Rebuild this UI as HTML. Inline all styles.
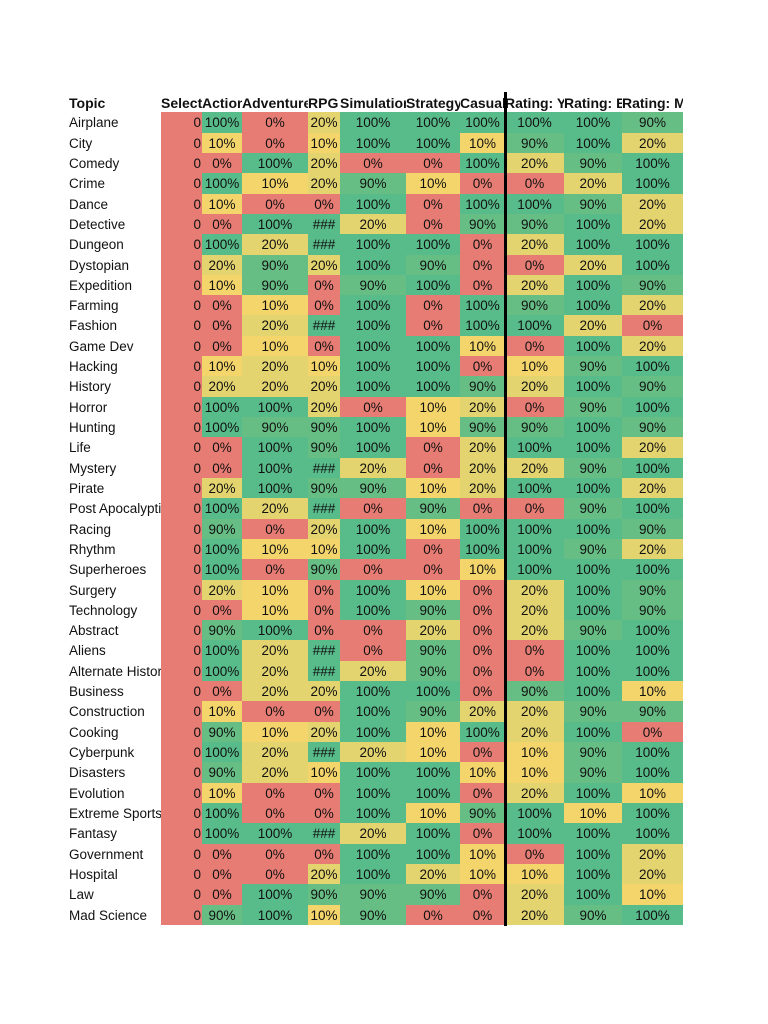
<!DOCTYPE html>
<html><head><meta charset="utf-8"><style>
body{margin:0;width:768px;height:1024px;background:#fff;position:relative;font-family:"Liberation Sans",sans-serif;font-size:13.5px;color:#111;overflow:hidden}
#t{position:absolute;left:69px;top:92px}
.r{display:flex;height:20.32px;line-height:22px}
.r>*{display:block;overflow:hidden;white-space:nowrap;text-align:center;font-style:normal;font-weight:normal}
.r>*:nth-child(1){width:92px;text-align:left}
.r>*:nth-child(2){width:41px;text-align:right;padding-right:1px;box-sizing:border-box}
.r>*:nth-child(3){width:40px}
.r>*:nth-child(4){width:66px}
.r>*:nth-child(5){width:32px}
.r>*:nth-child(6){width:66px}
.r>*:nth-child(7){width:54px}
.r>*:nth-child(8){width:45px}
.r>*:nth-child(9){width:59px}
.r>*:nth-child(10){width:58px}
.r>*:nth-child(11){width:61px}
.h>*{font-weight:bold!important;text-align:left!important;padding:0!important;font-size:14px}
.h>*:nth-child(1){overflow:visible}
.r i{background:#e67c73}
.a{background:#e67c73}.b{background:#f4d56b}.c{background:#e3d470}.d{background:#67be85}.e{background:#57bb8a}.x{background:#57bb8a}
#ln{position:absolute;left:504px;top:92px;width:3px;height:834px;background:#000}
</style></head><body>
<div id="t">
<div class="r h"><span>Topic</span><span>Select</span><span>Action</span><span>Adventure</span><span>RPG</span><span>Simulation</span><span>Strategy</span><span>Casual</span><span>Rating: Y</span><span>Rating: E</span><span>Rating: M</span></div>
<div class="r"><span>Airplane</span><i>0</i><b class="e">100%</b><b class="a">0%</b><b class="c">20%</b><b class="e">100%</b><b class="e">100%</b><b class="e">100%</b><b class="e">100%</b><b class="e">100%</b><b class="d">90%</b></div>
<div class="r"><span>City</span><i>0</i><b class="b">10%</b><b class="a">0%</b><b class="b">10%</b><b class="e">100%</b><b class="e">100%</b><b class="b">10%</b><b class="d">90%</b><b class="e">100%</b><b class="c">20%</b></div>
<div class="r"><span>Comedy</span><i>0</i><b class="a">0%</b><b class="e">100%</b><b class="c">20%</b><b class="a">0%</b><b class="a">0%</b><b class="e">100%</b><b class="c">20%</b><b class="d">90%</b><b class="e">100%</b></div>
<div class="r"><span>Crime</span><i>0</i><b class="e">100%</b><b class="b">10%</b><b class="c">20%</b><b class="d">90%</b><b class="b">10%</b><b class="a">0%</b><b class="a">0%</b><b class="c">20%</b><b class="e">100%</b></div>
<div class="r"><span>Dance</span><i>0</i><b class="b">10%</b><b class="a">0%</b><b class="a">0%</b><b class="e">100%</b><b class="a">0%</b><b class="e">100%</b><b class="e">100%</b><b class="d">90%</b><b class="c">20%</b></div>
<div class="r"><span>Detective</span><i>0</i><b class="a">0%</b><b class="e">100%</b><b class="x">###</b><b class="c">20%</b><b class="a">0%</b><b class="d">90%</b><b class="d">90%</b><b class="e">100%</b><b class="c">20%</b></div>
<div class="r"><span>Dungeon</span><i>0</i><b class="e">100%</b><b class="c">20%</b><b class="x">###</b><b class="e">100%</b><b class="e">100%</b><b class="a">0%</b><b class="c">20%</b><b class="e">100%</b><b class="e">100%</b></div>
<div class="r"><span>Dystopian</span><i>0</i><b class="c">20%</b><b class="d">90%</b><b class="c">20%</b><b class="e">100%</b><b class="d">90%</b><b class="a">0%</b><b class="a">0%</b><b class="c">20%</b><b class="e">100%</b></div>
<div class="r"><span>Expedition</span><i>0</i><b class="b">10%</b><b class="d">90%</b><b class="a">0%</b><b class="d">90%</b><b class="e">100%</b><b class="a">0%</b><b class="c">20%</b><b class="e">100%</b><b class="d">90%</b></div>
<div class="r"><span>Farming</span><i>0</i><b class="a">0%</b><b class="b">10%</b><b class="a">0%</b><b class="e">100%</b><b class="a">0%</b><b class="e">100%</b><b class="d">90%</b><b class="e">100%</b><b class="c">20%</b></div>
<div class="r"><span>Fashion</span><i>0</i><b class="a">0%</b><b class="c">20%</b><b class="x">###</b><b class="e">100%</b><b class="a">0%</b><b class="e">100%</b><b class="e">100%</b><b class="c">20%</b><b class="a">0%</b></div>
<div class="r"><span>Game Dev</span><i>0</i><b class="a">0%</b><b class="b">10%</b><b class="a">0%</b><b class="e">100%</b><b class="e">100%</b><b class="b">10%</b><b class="a">0%</b><b class="e">100%</b><b class="c">20%</b></div>
<div class="r"><span>Hacking</span><i>0</i><b class="b">10%</b><b class="c">20%</b><b class="b">10%</b><b class="e">100%</b><b class="e">100%</b><b class="a">0%</b><b class="b">10%</b><b class="d">90%</b><b class="e">100%</b></div>
<div class="r"><span>History</span><i>0</i><b class="c">20%</b><b class="c">20%</b><b class="c">20%</b><b class="e">100%</b><b class="e">100%</b><b class="d">90%</b><b class="c">20%</b><b class="e">100%</b><b class="d">90%</b></div>
<div class="r"><span>Horror</span><i>0</i><b class="e">100%</b><b class="e">100%</b><b class="c">20%</b><b class="a">0%</b><b class="b">10%</b><b class="c">20%</b><b class="a">0%</b><b class="d">90%</b><b class="e">100%</b></div>
<div class="r"><span>Hunting</span><i>0</i><b class="e">100%</b><b class="d">90%</b><b class="d">90%</b><b class="e">100%</b><b class="b">10%</b><b class="d">90%</b><b class="d">90%</b><b class="e">100%</b><b class="d">90%</b></div>
<div class="r"><span>Life</span><i>0</i><b class="a">0%</b><b class="e">100%</b><b class="d">90%</b><b class="e">100%</b><b class="a">0%</b><b class="c">20%</b><b class="e">100%</b><b class="e">100%</b><b class="c">20%</b></div>
<div class="r"><span>Mystery</span><i>0</i><b class="a">0%</b><b class="e">100%</b><b class="x">###</b><b class="c">20%</b><b class="a">0%</b><b class="c">20%</b><b class="c">20%</b><b class="d">90%</b><b class="e">100%</b></div>
<div class="r"><span>Pirate</span><i>0</i><b class="c">20%</b><b class="e">100%</b><b class="d">90%</b><b class="d">90%</b><b class="b">10%</b><b class="c">20%</b><b class="e">100%</b><b class="e">100%</b><b class="c">20%</b></div>
<div class="r"><span>Post Apocalyptic</span><i>0</i><b class="e">100%</b><b class="c">20%</b><b class="x">###</b><b class="a">0%</b><b class="d">90%</b><b class="a">0%</b><b class="a">0%</b><b class="d">90%</b><b class="e">100%</b></div>
<div class="r"><span>Racing</span><i>0</i><b class="d">90%</b><b class="a">0%</b><b class="c">20%</b><b class="e">100%</b><b class="b">10%</b><b class="e">100%</b><b class="e">100%</b><b class="e">100%</b><b class="d">90%</b></div>
<div class="r"><span>Rhythm</span><i>0</i><b class="e">100%</b><b class="b">10%</b><b class="b">10%</b><b class="e">100%</b><b class="a">0%</b><b class="e">100%</b><b class="e">100%</b><b class="d">90%</b><b class="c">20%</b></div>
<div class="r"><span>Superheroes</span><i>0</i><b class="e">100%</b><b class="a">0%</b><b class="d">90%</b><b class="a">0%</b><b class="a">0%</b><b class="b">10%</b><b class="e">100%</b><b class="e">100%</b><b class="e">100%</b></div>
<div class="r"><span>Surgery</span><i>0</i><b class="c">20%</b><b class="b">10%</b><b class="a">0%</b><b class="e">100%</b><b class="b">10%</b><b class="a">0%</b><b class="c">20%</b><b class="e">100%</b><b class="d">90%</b></div>
<div class="r"><span>Technology</span><i>0</i><b class="a">0%</b><b class="b">10%</b><b class="a">0%</b><b class="e">100%</b><b class="d">90%</b><b class="a">0%</b><b class="c">20%</b><b class="e">100%</b><b class="d">90%</b></div>
<div class="r"><span>Abstract</span><i>0</i><b class="d">90%</b><b class="e">100%</b><b class="a">0%</b><b class="a">0%</b><b class="c">20%</b><b class="a">0%</b><b class="c">20%</b><b class="d">90%</b><b class="e">100%</b></div>
<div class="r"><span>Aliens</span><i>0</i><b class="e">100%</b><b class="c">20%</b><b class="x">###</b><b class="a">0%</b><b class="d">90%</b><b class="a">0%</b><b class="a">0%</b><b class="e">100%</b><b class="e">100%</b></div>
<div class="r"><span>Alternate History</span><i>0</i><b class="e">100%</b><b class="c">20%</b><b class="x">###</b><b class="c">20%</b><b class="d">90%</b><b class="a">0%</b><b class="a">0%</b><b class="e">100%</b><b class="e">100%</b></div>
<div class="r"><span>Business</span><i>0</i><b class="a">0%</b><b class="c">20%</b><b class="c">20%</b><b class="e">100%</b><b class="e">100%</b><b class="a">0%</b><b class="d">90%</b><b class="e">100%</b><b class="b">10%</b></div>
<div class="r"><span>Construction</span><i>0</i><b class="b">10%</b><b class="a">0%</b><b class="a">0%</b><b class="e">100%</b><b class="d">90%</b><b class="c">20%</b><b class="c">20%</b><b class="d">90%</b><b class="d">90%</b></div>
<div class="r"><span>Cooking</span><i>0</i><b class="d">90%</b><b class="b">10%</b><b class="c">20%</b><b class="e">100%</b><b class="b">10%</b><b class="e">100%</b><b class="c">20%</b><b class="e">100%</b><b class="a">0%</b></div>
<div class="r"><span>Cyberpunk</span><i>0</i><b class="e">100%</b><b class="c">20%</b><b class="x">###</b><b class="c">20%</b><b class="b">10%</b><b class="a">0%</b><b class="b">10%</b><b class="d">90%</b><b class="e">100%</b></div>
<div class="r"><span>Disasters</span><i>0</i><b class="d">90%</b><b class="c">20%</b><b class="b">10%</b><b class="e">100%</b><b class="e">100%</b><b class="b">10%</b><b class="b">10%</b><b class="d">90%</b><b class="e">100%</b></div>
<div class="r"><span>Evolution</span><i>0</i><b class="b">10%</b><b class="a">0%</b><b class="a">0%</b><b class="e">100%</b><b class="e">100%</b><b class="a">0%</b><b class="c">20%</b><b class="e">100%</b><b class="b">10%</b></div>
<div class="r"><span>Extreme Sports</span><i>0</i><b class="e">100%</b><b class="a">0%</b><b class="a">0%</b><b class="e">100%</b><b class="b">10%</b><b class="d">90%</b><b class="e">100%</b><b class="b">10%</b><b class="e">100%</b></div>
<div class="r"><span>Fantasy</span><i>0</i><b class="e">100%</b><b class="e">100%</b><b class="x">###</b><b class="c">20%</b><b class="e">100%</b><b class="a">0%</b><b class="e">100%</b><b class="e">100%</b><b class="e">100%</b></div>
<div class="r"><span>Government</span><i>0</i><b class="a">0%</b><b class="a">0%</b><b class="a">0%</b><b class="e">100%</b><b class="e">100%</b><b class="b">10%</b><b class="a">0%</b><b class="e">100%</b><b class="c">20%</b></div>
<div class="r"><span>Hospital</span><i>0</i><b class="a">0%</b><b class="a">0%</b><b class="c">20%</b><b class="e">100%</b><b class="c">20%</b><b class="b">10%</b><b class="b">10%</b><b class="e">100%</b><b class="c">20%</b></div>
<div class="r"><span>Law</span><i>0</i><b class="a">0%</b><b class="e">100%</b><b class="d">90%</b><b class="d">90%</b><b class="d">90%</b><b class="a">0%</b><b class="c">20%</b><b class="e">100%</b><b class="b">10%</b></div>
<div class="r"><span>Mad Science</span><i>0</i><b class="d">90%</b><b class="e">100%</b><b class="b">10%</b><b class="d">90%</b><b class="a">0%</b><b class="a">0%</b><b class="c">20%</b><b class="d">90%</b><b class="e">100%</b></div>
</div>
<div id="ln"></div>
</body></html>
